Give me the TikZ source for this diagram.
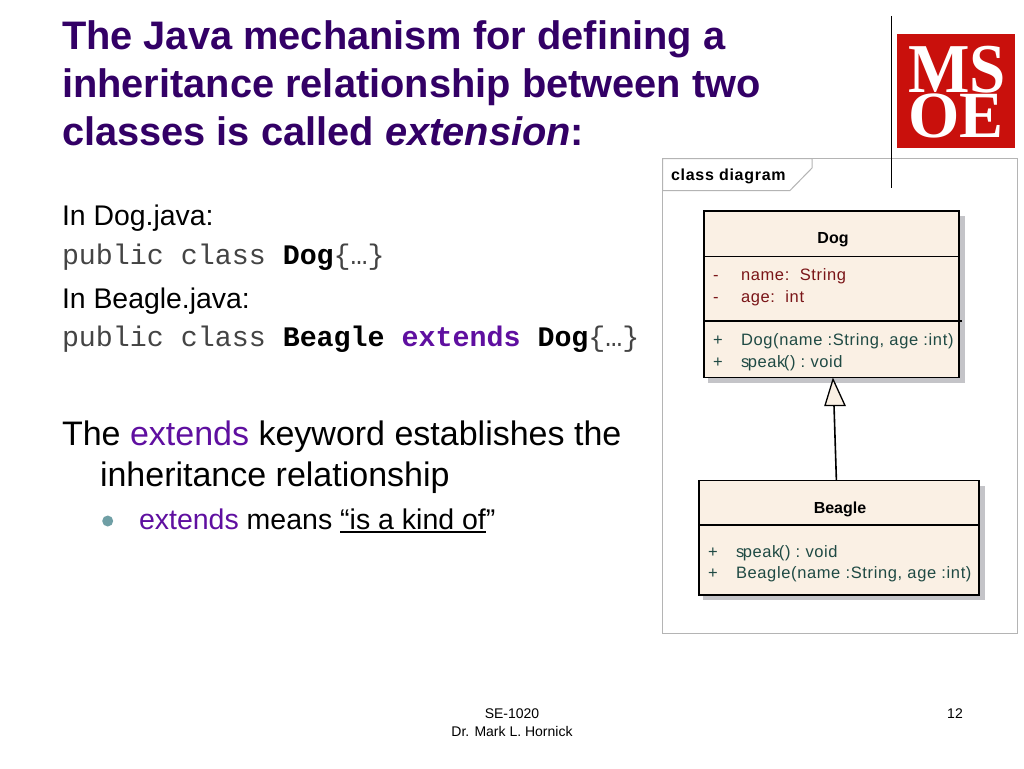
\documentclass[tikz,border=0pt]{standalone}
\usepackage{fontspec}
\setmainfont{Liberation Sans}
\setmonofont{Liberation Mono}
\newfontfamily\logofont{Liberation Serif}
\definecolor{titlec}{HTML}{330066}
\definecolor{purp}{HTML}{5F0FA0}
\definecolor{umlfill}{HTML}{FAF0E4}
\definecolor{attrc}{HTML}{7A1518}
\definecolor{operc}{HTML}{1F4A44}
\definecolor{framec}{HTML}{B4B4B4}
\definecolor{shadowc}{HTML}{C4C4C8}
\definecolor{bulletc}{HTML}{6F9FA5}
\definecolor{logored}{HTML}{C9100C}
\definecolor{monoc}{HTML}{444444}
\newfontfamily\umlfont[LetterSpace=3.8]{Liberation Sans}
\newfontfamily\umlbold[LetterSpace=4.5]{Liberation Sans Bold}
\newsavebox{\ulbox}
\newcommand{\thickul}[1]{\sbox{\ulbox}{#1}\rlap{\rule[-3.6pt]{\wd\ulbox}{1.7pt}}\usebox{\ulbox}}
\newcommand{\speakvoid}{s\kern-1.5pt peak\kern-1.5pt()\ :\ void}
\tikzset{
  txt/.style={anchor=base west,inner sep=0pt,outer sep=0pt,font=#1},
  titletxt/.style={txt=\fontsize{39.8}{39.8}\selectfont\bfseries,text=titlec},
  bodytxt/.style={txt=\fontsize{28.4}{28.4}\selectfont},
  monotxt/.style={txt=\fontsize{28.3}{28.3}\selectfont\ttfamily,text=monoc},
  bigtxt/.style={txt=\fontsize{34}{34}\selectfont},
  subtxt/.style={txt=\fontsize{28.5}{28.5}\selectfont},
  foot/.style={anchor=base,inner sep=0pt,font=\fontsize{14}{14}\selectfont},
  uml/.style={draw=black,line width=1.4pt,fill=umlfill,outer sep=0pt,inner sep=0pt,anchor=north west},
  umlline/.style={draw=black,line width=1.3pt},
  cname/.style={anchor=base,inner sep=0pt,font=\fontsize{16}{16}\selectfont\bfseries},
  attr/.style={txt=\fontsize{16.5}{16.5}\umlfont,text=attrc},
  oper/.style={txt=\fontsize{16.5}{16.5}\umlfont,text=operc},
}
\begin{document}
\begin{tikzpicture}[x=1pt,y=-1pt]
\useasboundingbox (0,0) rectangle (1024,768);
\fill[white] (0,0) rectangle (1024,768);
% title
\node[titletxt] (t1) at (62,49.5) {The Java mechanism for defining a};
\node[titletxt] (t2) at (62,97.5) {inheritance relationship between two};
\node[titletxt] (t3) at (62,145.5) {classes is called \textit{extension}:};
% body
\node[bodytxt] (b1) at (62,225) {In Dog.java:};
\node[monotxt] (b2) at (62,264) {public class \textbf{\color{black}Dog}\{…\}};
\node[bodytxt] (b3) at (62,308) {In Beagle.java:};
\node[monotxt] (b4) at (62,346) {public class \textbf{\color{black}Beagle} \textcolor{purp}{\textbf{extends}} \textbf{\color{black}Dog}\{…\}};
\node[bigtxt] (b5) at (62,445) {The \textcolor{purp}{extends} keyword establishes the};
\node[bigtxt] (b6) at (100,486) {inheritance relationship};
\fill[bulletc] (107.7,521) circle (5.5);
\node[subtxt] (b7) at (139,529) {\textcolor{purp}{extends} means \thickul{“is a kind of}”};
% footer
\node[foot] (f1) at (512,718) {SE-1020};
\node[foot] (f2) at (512,736) {Dr. Mark L. Hornick};
\node[foot] (f3) at (955,718) {12};
% frame
\draw[framec,line width=1pt] (662.5,158.5) rectangle (1017.5,633.5);
\draw[framec,line width=1pt,fill=white] (662.5,158.5) -- (812,158.5) -- (812,168) -- (790,190.5) -- (662.5,190.5) -- cycle;
\node[txt=\fontsize{16}{16}\umlbold] (fr) at (671,180) {class diagram};
% logo
\draw[black,line width=1pt] (891.5,16) -- (891.5,188);
\fill[logored] (897,34.5) rectangle (1015,148);
\node[txt=\logofont\bfseries\fontsize{70}{70}\selectfont,text=white] (l1) at (908,92) {\scalebox{0.93}[1]{MS}};
\node[txt=\logofont\bfseries\fontsize{66}{66}\selectfont,text=white] (l2) at (908,137) {OE};
% Dog
\fill[shadowc] (708,216) rectangle (965,383);
\node[uml,minimum width=255pt,minimum height=166.5pt] (dog) at (704,211) {};
\draw[umlline] (704,256.7) -- (959,256.7);
\draw[umlline] (704,321) -- (961.5,321);
\node[cname] (dn) at (833,243) {Dog};
\node[attr] (da1) at (713,280.5) {-};
\node[attr] (da2) at (741,280.5) {name:\ \ String};
\node[attr] (da3) at (713,302) {-};
\node[attr] (da4) at (741,302) {age:\ \ int};
\node[oper] (do1) at (713,345) {+};
\node[oper] (do2) at (741,345) {Dog(name :String, age :int)};
\node[oper] (do3) at (713,367) {+};
\node[oper] (do4) at (741,367) {\speakvoid};
% Beagle
\fill[shadowc] (703,486) rectangle (984.5,600);
\node[uml,minimum width=280pt,minimum height=114.3pt] (bg) at (699,480.7) {};
\draw[umlline] (699,525) -- (979,525);
\node[cname] (bn) at (840,513) {Beagle};
\node[oper] (bo1) at (708,557) {+};
\node[oper] (bo2) at (736,557) {\speakvoid};
\node[oper] (bo3) at (708,578) {+};
\node[oper] (bo4) at (736,578) {Beagle(name :String, age :int)};
% inheritance
\coordinate (tip) at (833,379.3);
\coordinate (base) at (834,405.5);
\coordinate (bgtop) at (836.4,480.7);
\draw[black,line width=1.6pt] (base) -- (bgtop);
\draw[black,line width=1.3pt,fill=umlfill,line join=miter] (tip) -- (845,405.5) -- (825,405.5) -- cycle;
\end{tikzpicture}
\end{document}
